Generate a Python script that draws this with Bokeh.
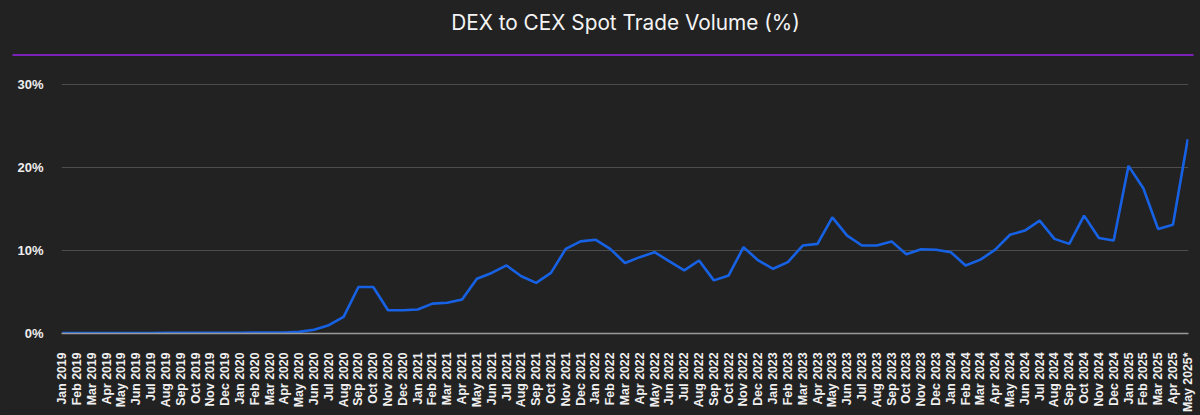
import math
from bokeh.plotting import figure
from bokeh.layouts import column
from bokeh.models import Range1d, FixedTicker
from bokeh.core.properties import value
from bokeh.embed import file_html
from bokeh.resources import INLINE

BG = "#222222"

month_labels = [
    "Jan 2019", "Feb 2019", "Mar 2019", "Apr 2019", "May 2019", "Jun 2019",
    "Jul 2019", "Aug 2019", "Sep 2019", "Oct 2019", "Nov 2019", "Dec 2019",
    "Jan 2020", "Feb 2020", "Mar 2020", "Apr 2020", "May 2020", "Jun 2020",
    "Jul 2020", "Aug 2020", "Sep 2020", "Oct 2020", "Nov 2020", "Dec 2020",
    "Jan 2021", "Feb 2021", "Mar 2021", "Apr 2021", "May 2021", "Jun 2021",
    "Jul 2021", "Aug 2021", "Sep 2021", "Oct 2021", "Nov 2021", "Dec 2021",
    "Jan 2022", "Feb 2022", "Mar 2022", "Apr 2022", "May 2022", "Jun 2022",
    "Jul 2022", "Aug 2022", "Sep 2022", "Oct 2022", "Nov 2022", "Dec 2022",
    "Jan 2023", "Feb 2023", "Mar 2023", "Apr 2023", "May 2023", "Jun 2023",
    "Jul 2023", "Aug 2023", "Sep 2023", "Oct 2023", "Nov 2023", "Dec 2023",
    "Jan 2024", "Feb 2024", "Mar 2024", "Apr 2024", "May 2024", "Jun 2024",
    "Jul 2024", "Aug 2024", "Sep 2024", "Oct 2024", "Nov 2024", "Dec 2024",
    "Jan 2025", "Feb 2025", "Mar 2025", "Apr 2025", "May 2025*",
]

dex_cex_pct = [
    0.05, 0.05, 0.05, 0.05, 0.06, 0.06, 0.06, 0.07, 0.07, 0.07, 0.07, 0.08,
    0.08, 0.10, 0.10, 0.10, 0.20, 0.45, 1.0, 2.0, 5.6, 5.6, 2.8, 2.8,
    2.9, 3.6, 3.7, 4.1, 6.6, 7.3, 8.2, 6.9, 6.1, 7.3, 10.2, 11.1,
    11.3, 10.2, 8.5, 9.2, 9.8, 8.7, 7.6, 8.8, 6.4, 7.0, 10.4, 8.8,
    7.8, 8.6, 10.6, 10.8, 14.0, 11.8, 10.6, 10.6, 11.1, 9.55, 10.15, 10.1,
    9.8, 8.2, 8.9, 10.1, 11.9, 12.4, 13.6, 11.4, 10.8, 14.2, 11.5, 11.2,
    20.2, 17.5, 12.6, 13.1, 23.4,
]

y_ticks = [0, 10, 20, 30]
title_text = "DEX to CEX Spot Trade Volume (%)"

# ---------- header (title + purple rule) ----------
W = 1200
HEAD_H = 66
head = figure(width=W, height=HEAD_H, x_range=Range1d(0, W), y_range=Range1d(0, HEAD_H),
              toolbar_location=None, output_backend="svg",
              x_axis_type=None, y_axis_type=None,
              min_border=0, min_border_left=0, min_border_right=0,
              min_border_top=0, min_border_bottom=0)
head.frame_align = False
head.background_fill_color = BG
head.border_fill_color = BG
head.outline_line_color = None
head.xgrid.visible = False
head.ygrid.visible = False
head.text(x=[625], y=[HEAD_H - 22], text=[title_text],
          text_font=value("Inter"), text_font_size="20.8px", text_font_style="normal",
          text_color="#f4f4f4", text_align="center", text_baseline="middle")
head.segment(x0=[12], y0=[11.5], x1=[1193], y1=[11.5], line_color="#7B22B8", line_width=2)

# ---------- main chart ----------
x_idx = list(range(len(month_labels)))
p = figure(width=W, height=415 - HEAD_H,
           x_range=Range1d(-0.05, len(month_labels) - 1 + 0.05),
           y_range=Range1d(0, 31.69),
           toolbar_location=None, output_backend="svg",
           min_border_left=61, min_border_right=12, min_border_top=4, min_border_bottom=82)
p.frame_align = False
p.background_fill_color = BG
p.border_fill_color = BG
p.outline_line_color = None

p.line(x_idx, dex_cex_pct, line_color="#1762E4", line_width=2.6)

p.xaxis.ticker = FixedTicker(ticks=x_idx)
p.xaxis.major_label_overrides = {i: lab for i, lab in enumerate(month_labels)}
p.xaxis.major_label_orientation = math.pi / 2
p.xaxis.major_label_text_font = "Liberation Sans"
p.xaxis.major_label_text_font_style = "bold"
p.xaxis.major_label_text_font_size = "12.3px"
p.xaxis.major_label_text_color = "#f0f0f0"
p.xaxis.major_label_standoff = 13
p.xaxis.major_tick_line_color = None
p.xaxis.minor_tick_line_color = None
p.xaxis.axis_line_color = "#9a9a9a"
p.xaxis.axis_line_width = 1.5
p.xgrid.visible = False

p.yaxis.ticker = FixedTicker(ticks=y_ticks)
p.yaxis.major_label_overrides = {t: f"{t}%" for t in y_ticks}
p.yaxis.major_label_text_font = "Liberation Sans"
p.yaxis.major_label_text_font_style = "bold"
p.yaxis.major_label_text_font_size = "13px"
p.yaxis.major_label_text_color = "#eeeeee"
p.yaxis.major_label_standoff = 12
p.yaxis.major_tick_line_color = None
p.yaxis.minor_tick_line_color = None
p.yaxis.axis_line_color = None
p.ygrid.grid_line_color = "#4d4d4d"
p.ygrid.grid_line_width = 1
p.ygrid.ticker = FixedTicker(ticks=[10, 20, 30])

layout = column(head, p, spacing=0)
layout.styles = {"background-color": BG}

html = file_html(layout, INLINE, title="DEX to CEX Spot Trade Volume")
html = html.replace("<body>", f'<body style="background-color:{BG};">', 1)
open("out.html", "w").write(html)
